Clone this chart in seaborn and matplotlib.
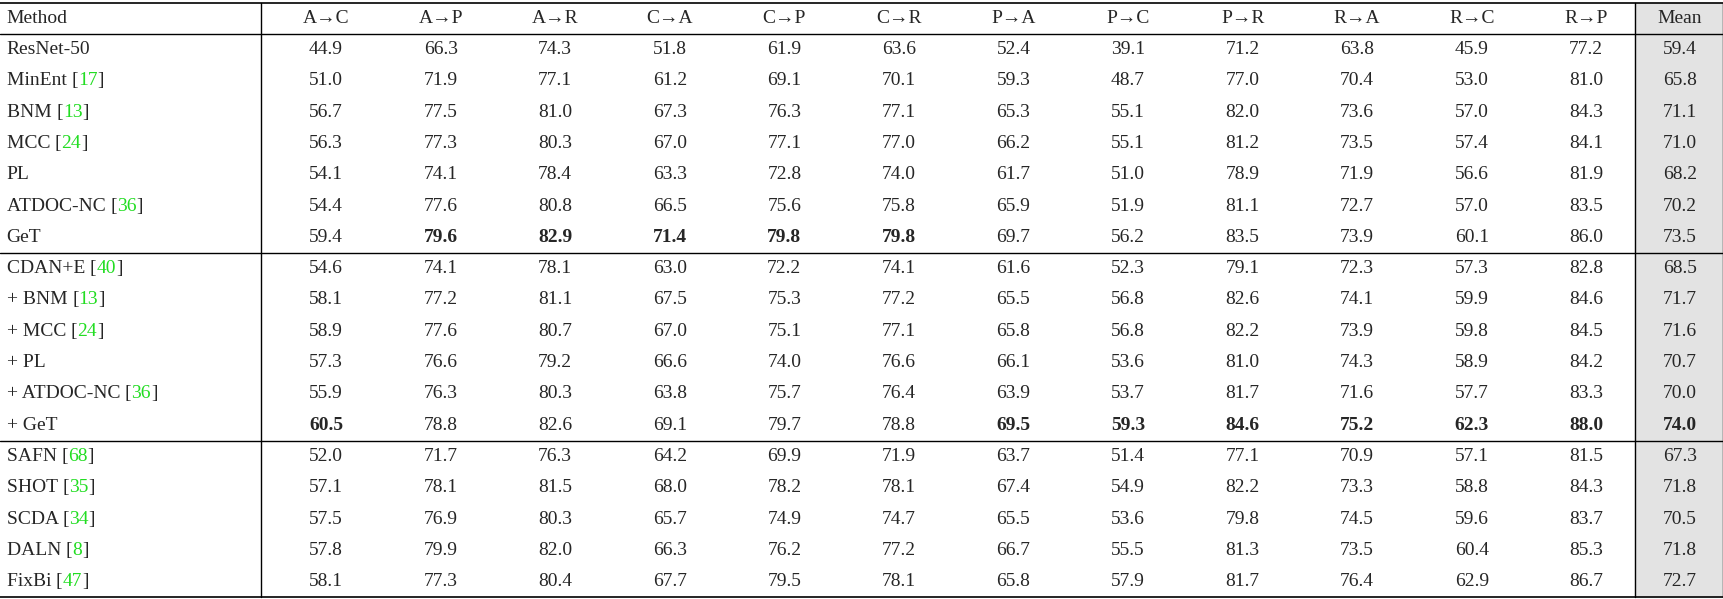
import matplotlib
matplotlib.use("Agg")
import matplotlib.pyplot as plt
import seaborn as sns

sns.set_style("white")
plt.rcParams['font.family'] = ['Liberation Serif', 'DejaVu Serif']

columns = ["A→C","A→P","A→R","C→A","C→P","C→R","P→A","P→C","P→R","R→A","R→C","R→P","Mean"]
methods = [("ResNet-50",None),("MinEnt ","17"),("BNM ","13"),("MCC ","24"),("PL",None),("ATDOC-NC ","36"),("GeT",None),
           ("CDAN+E ","40"),("+ BNM ","13"),("+ MCC ","24"),("+ PL",None),("+ ATDOC-NC ","36"),("+ GeT",None),
           ("SAFN ","68"),("SHOT ","35"),("SCDA ","34"),("DALN ","8"),("FixBi ","47")]
values = [
[44.9,66.3,74.3,51.8,61.9,63.6,52.4,39.1,71.2,63.8,45.9,77.2,59.4],
[51.0,71.9,77.1,61.2,69.1,70.1,59.3,48.7,77.0,70.4,53.0,81.0,65.8],
[56.7,77.5,81.0,67.3,76.3,77.1,65.3,55.1,82.0,73.6,57.0,84.3,71.1],
[56.3,77.3,80.3,67.0,77.1,77.0,66.2,55.1,81.2,73.5,57.4,84.1,71.0],
[54.1,74.1,78.4,63.3,72.8,74.0,61.7,51.0,78.9,71.9,56.6,81.9,68.2],
[54.4,77.6,80.8,66.5,75.6,75.8,65.9,51.9,81.1,72.7,57.0,83.5,70.2],
[59.4,79.6,82.9,71.4,79.8,79.8,69.7,56.2,83.5,73.9,60.1,86.0,73.5],
[54.6,74.1,78.1,63.0,72.2,74.1,61.6,52.3,79.1,72.3,57.3,82.8,68.5],
[58.1,77.2,81.1,67.5,75.3,77.2,65.5,56.8,82.6,74.1,59.9,84.6,71.7],
[58.9,77.6,80.7,67.0,75.1,77.1,65.8,56.8,82.2,73.9,59.8,84.5,71.6],
[57.3,76.6,79.2,66.6,74.0,76.6,66.1,53.6,81.0,74.3,58.9,84.2,70.7],
[55.9,76.3,80.3,63.8,75.7,76.4,63.9,53.7,81.7,71.6,57.7,83.3,70.0],
[60.5,78.8,82.6,69.1,79.7,78.8,69.5,59.3,84.6,75.2,62.3,88.0,74.0],
[52.0,71.7,76.3,64.2,69.9,71.9,63.7,51.4,77.1,70.9,57.1,81.5,67.3],
[57.1,78.1,81.5,68.0,78.2,78.1,67.4,54.9,82.2,73.3,58.8,84.3,71.8],
[57.5,76.9,80.3,65.7,74.9,74.7,65.5,53.6,79.8,74.5,59.6,83.7,70.5],
[57.8,79.9,82.0,66.3,76.2,77.2,66.7,55.5,81.3,73.5,60.4,85.3,71.8],
[58.1,77.3,80.4,67.7,79.5,78.1,65.8,57.9,81.7,76.4,62.9,86.7,72.7]]
bold = {6:[1,2,3,4,5], 12:[0,6,7,8,9,10,11,12]}

W = 1565.0
NR = 19
fig = plt.figure(figsize=(17.24,5.99), dpi=100)
ax = fig.add_axes([0,0,1,1])
ax.set_xlim(0,W); ax.set_ylim(NR+0.05,-0.08); ax.axis('off')
fs = 14
ax.fill_between([1484, W-1], 0, NR, color='#e3e3e3', zorder=0)
for y, lw in [(0,1.2),(1,1.0),(8,1.0),(14,1.0),(NR,1.2)]:
    ax.axhline(y, color='black', lw=lw)
for x in [237,1484,W-1]:
    ax.plot([x,x],[0,NR],color='black',lw=1.0)
centers = [296+104*i for i in range(12)] + [1525]
ax.text(6, 0.5, "Method", va='center', ha='left', fontsize=fs)
for c,x in zip(columns, centers):
    ax.text(x, 0.5, c, va='center', ha='center', fontsize=fs)
fig.canvas.draw()
r = fig.canvas.get_renderer()
inv = ax.transData.inverted()
for i,((name,ref),vals) in enumerate(zip(methods,values)):
    y = 1.5+i
    t = ax.text(6, y, name, va='center', ha='left', fontsize=fs)
    if ref:
        bb = t.get_window_extent(r)
        x1 = inv.transform((bb.x1, bb.y0))[0]
        t2 = ax.text(x1, y, "[", va='center', ha='left', fontsize=fs)
        bb = t2.get_window_extent(r); x1 = inv.transform((bb.x1,bb.y0))[0]
        t3 = ax.text(x1, y, ref, va='center', ha='left', fontsize=fs, color='#22dd22')
        bb = t3.get_window_extent(r); x1 = inv.transform((bb.x1,bb.y0))[0]
        ax.text(x1, y, "]", va='center', ha='left', fontsize=fs)
    for j,(v,x) in enumerate(zip(vals,centers)):
        ax.text(x, y, f"{v:.1f}", va='center', ha='center', fontsize=fs,
                fontweight='bold' if j in bold.get(i,[]) else 'normal')
fig.savefig("out.png", dpi=100)
